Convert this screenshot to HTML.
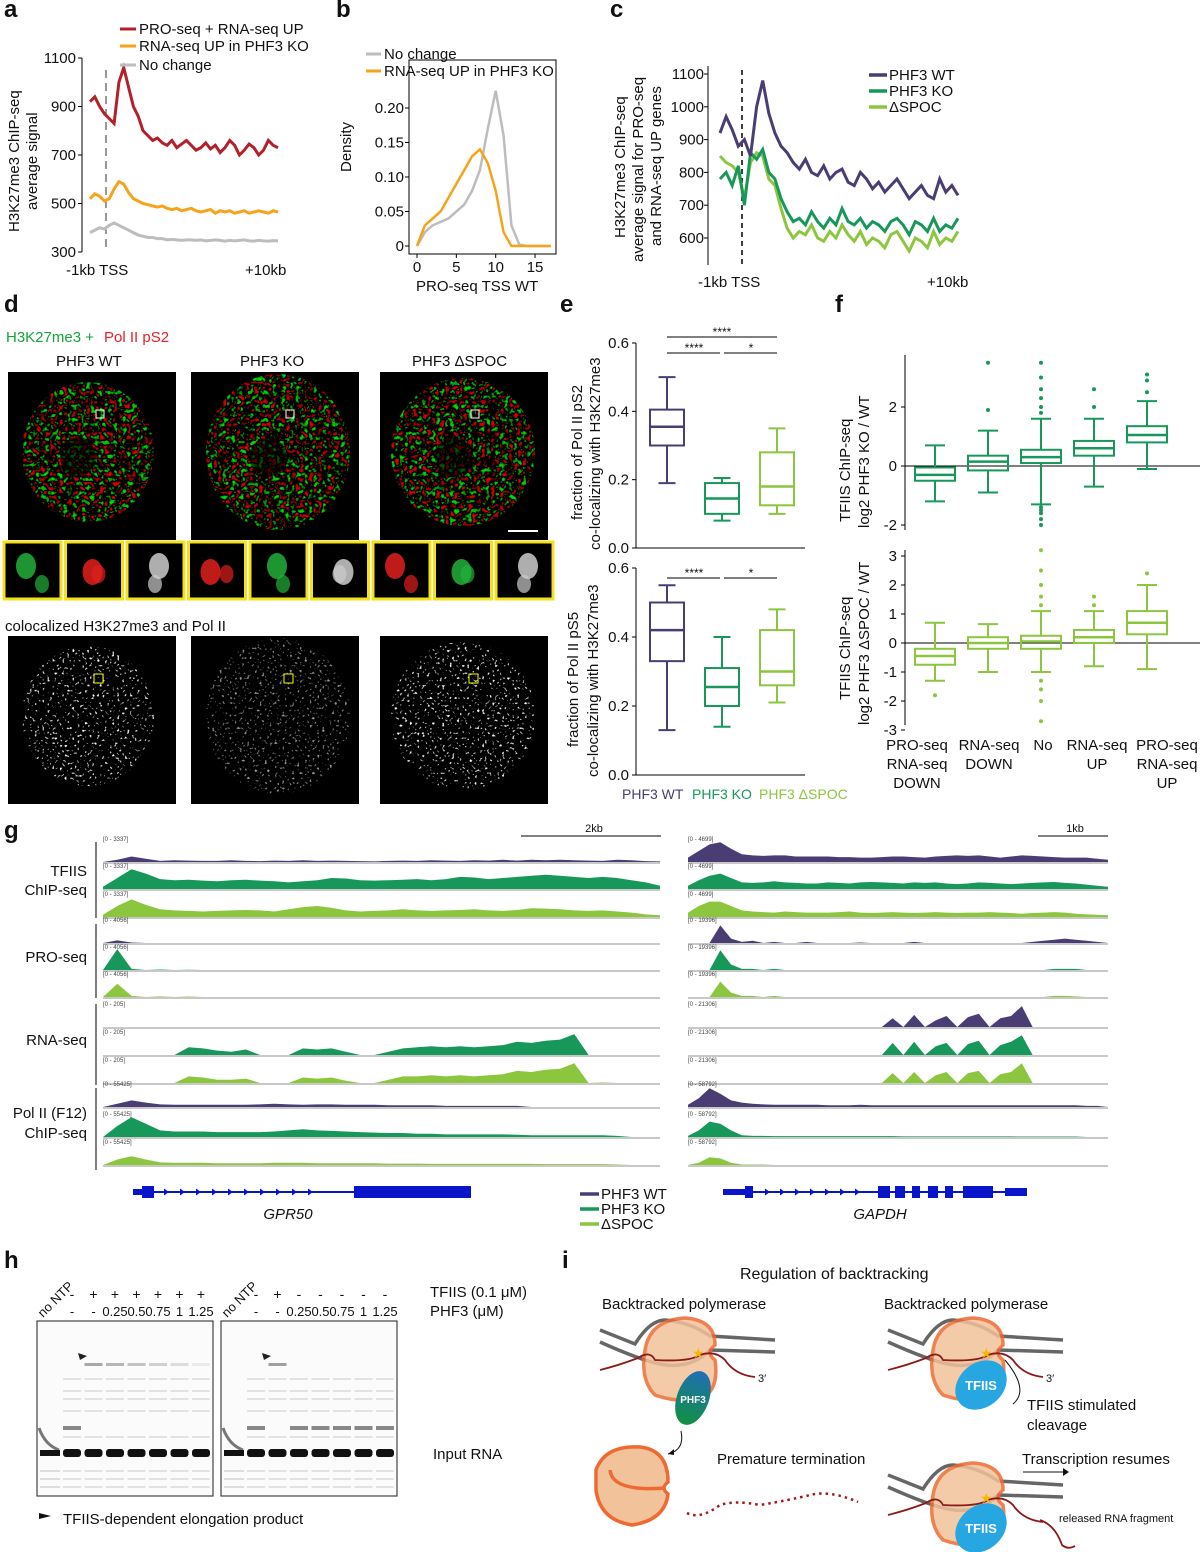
<!DOCTYPE html>
<html><head><meta charset="utf-8"><style>
html,body{margin:0;padding:0;background:#fff}
svg{display:block;font-family:"Liberation Sans",sans-serif}
</style></head><body>
<svg id="fig" width="1200" height="1552" viewBox="0 0 1200 1552" xmlns="http://www.w3.org/2000/svg">
<defs>
<filter id="rg" x="0" y="0" width="1" height="1"><feTurbulence type="fractalNoise" baseFrequency="0.22" numOctaves="2" seed="4"/><feColorMatrix values="4 -3 0 0 -0.9  -3 4 0 0 -0.9  0 0 0 0 0  0 0 0 0 1"/></filter>
<filter id="wh" x="0" y="0" width="1" height="1"><feTurbulence type="fractalNoise" baseFrequency="0.4" numOctaves="1" seed="7"/><feColorMatrix values="7 0 0 0 -4.4  7 0 0 0 -4.4  7 0 0 0 -4.4  0 0 0 0 1"/></filter>
<linearGradient id="phf" x1="0" y1="0" x2="0" y2="1"><stop offset="0" stop-color="#1f6fb6"/><stop offset="1" stop-color="#119040"/></linearGradient>
</defs>
<g id="root"></g>
</svg>
<script>
// ---------- DATA ----------
const aRed=[920,940,900,870,850,830,1000,1060,980,900,860,800,780,760,770,750,740,760,730,745,760,740,720,730,750,725,740,710,730,760,740,700,720,745,730,700,720,760,740,730];
const aOrange=[520,540,530,510,520,560,590,580,545,520,510,500,495,490,485,490,480,475,480,470,475,480,470,465,470,475,460,470,465,470,460,465,470,460,465,470,465,460,470,465];
const aGray=[380,390,400,395,410,420,410,400,390,380,370,365,360,360,355,355,350,352,350,348,350,350,348,350,346,348,350,348,345,348,346,348,350,346,345,348,346,345,347,346];
const aTicks=[300,500,700,900,1100];
const bX=[0,1,2,3,4,5,6,7,8,9,10,11,12,13,14,15,16,17];
const bGray=[0,0.02,0.03,0.035,0.04,0.05,0.06,0.08,0.11,0.17,0.225,0.16,0.03,0.002,0,0,0,0];
const bOrange=[0,0.03,0.04,0.05,0.07,0.09,0.11,0.13,0.14,0.12,0.08,0.02,0,0,0,0,0,0];
const bYTicks=[0,0.05,0.10,0.15,0.20];
const bXTicks=[0,5,10,15];
const cWT=[920,970,930,880,900,850,1000,1080,980,920,880,860,830,810,840,800,790,820,780,800,810,770,760,800,780,750,770,740,760,780,750,720,740,760,730,720,780,740,760,730];
const cKO=[780,800,760,820,700,860,840,870,800,780,720,680,650,660,640,680,650,630,660,640,690,650,640,660,630,650,640,620,650,660,640,610,650,640,620,660,620,640,630,660];
const cSP=[850,830,820,800,720,830,860,850,780,760,690,630,600,620,610,640,600,590,620,600,640,610,590,620,580,600,590,570,610,620,590,560,600,590,570,620,580,600,590,620];
const cTicks=[600,700,800,900,1000,1100];
const eTop=[[0.19,0.30,0.355,0.405,0.50],[0.08,0.10,0.145,0.19,0.205],[0.10,0.125,0.18,0.28,0.35]];
const eBot=[[0.13,0.33,0.42,0.50,0.55],[0.14,0.20,0.255,0.31,0.40],[0.21,0.26,0.30,0.42,0.48]];
const eTicks=[0,0.2,0.4,0.6];
const fTop=[[-1.2,-0.5,-0.3,-0.05,0.7],[-0.9,-0.15,0.15,0.35,1.2],[-1.3,0.1,0.3,0.55,1.6],[-0.7,0.35,0.6,0.85,1.6],[-0.1,0.8,1.05,1.35,2.2]];
const fBot=[[-1.3,-0.75,-0.45,-0.2,0.7],[-1.0,-0.2,0,0.2,0.65],[-1.0,-0.2,0.05,0.25,1.1],[-0.8,0,0.2,0.45,1.1],[-0.9,0.3,0.7,1.1,2.0]];
const fTopOut=[[],[1.9,3.5],[-2,-1.8,-1.6,-1.5,-1.4,1.8,2.0,2.3,2.6,3.0,3.5],[2.0,2.6],[2.5,2.9,3.1]];
const fBotOut=[[-1.8],[],[-2.7,-2,-1.6,-1.3,1.3,1.6,2.0,2.5,3.2],[1.3,1.6],[2.4]];
const fTopTicks=[-2,0,2];
const fBotTicks=[-3,-2,-1,0,1,2,3];
const gL=[
[0,0.1,0.25,0.15,0.05,0.08,0.06,0.05,0.05,0.08,0.05,0.04,0.06,0.05,0.08,0.05,0.06,0.05,0.04,0.03,0.05,0.06,0.05,0.08,0.06,0.05,0.08,0.06,0.1,0.06,0.1,0.08,0.1,0.08,0.06,0.05,0.1,0.08,0.04,0.03],
[0.1,0.5,0.9,0.7,0.45,0.4,0.42,0.38,0.35,0.4,0.42,0.38,0.35,0.3,0.35,0.4,0.5,0.48,0.4,0.38,0.4,0.42,0.45,0.4,0.45,0.55,0.52,0.45,0.5,0.55,0.6,0.65,0.6,0.55,0.5,0.55,0.5,0.4,0.3,0.15],
[0.1,0.5,0.8,0.55,0.35,0.3,0.28,0.25,0.28,0.3,0.32,0.3,0.25,0.35,0.45,0.5,0.42,0.3,0.25,0.28,0.3,0.35,0.3,0.28,0.3,0.32,0.35,0.3,0.28,0.32,0.4,0.38,0.35,0.3,0.28,0.3,0.25,0.2,0.12,0.08],
[0,0.12,0.02,0,0,0,0,0,0,0,0,0,0,0,0,0,0,0,0,0,0,0,0,0,0,0,0,0,0,0,0,0,0,0,0,0,0,0,0,0],
[0,0.95,0.05,0,0.02,0,0.01,0,0,0,0,0,0,0,0,0,0,0,0,0,0,0,0,0,0,0,0,0,0,0,0,0,0,0,0,0,0,0,0,0],
[0,0.6,0.05,0,0.03,0,0.02,0,0,0,0,0,0,0,0,0,0,0,0,0,0,0,0,0,0,0,0,0,0,0,0,0,0,0,0,0,0,0,0,0],
[0,0,0,0,0,0,0,0,0,0,0,0,0,0,0,0,0,0,0,0,0,0,0,0,0,0,0,0,0,0,0,0,0,0,0,0,0,0,0,0],
[0,0,0,0,0,0,0.35,0.3,0.2,0.15,0.25,0,0,0,0.3,0.25,0.3,0.15,0,0,0.15,0.3,0.35,0.4,0.35,0.4,0.35,0.4,0.45,0.6,0.55,0.65,0.7,0.95,0,0,0,0,0,0],
[0,0,0,0,0,0,0.3,0.25,0.15,0.15,0.2,0,0,0,0.25,0.2,0.25,0.1,0,0,0.15,0.3,0.3,0.35,0.3,0.35,0.3,0.35,0.4,0.55,0.5,0.6,0.65,0.9,0,0.02,0,0,0,0],
[0,0.15,0.3,0.2,0.12,0.1,0.1,0.1,0.1,0.1,0.1,0.12,0.15,0.12,0.1,0.12,0.12,0.1,0.1,0.1,0.08,0.08,0.08,0.08,0.05,0.05,0.05,0.05,0.05,0.05,0,0,0,0,0,0,0,0,0,0],
[0,0.5,0.9,0.6,0.3,0.25,0.25,0.25,0.22,0.22,0.22,0.22,0.25,0.3,0.35,0.3,0.28,0.25,0.22,0.2,0.18,0.18,0.15,0.15,0.12,0.12,0.12,0.12,0.12,0.1,0.08,0.08,0.08,0.08,0.08,0.08,0.05,0,0,0],
[0,0.25,0.4,0.25,0.12,0.1,0.1,0.1,0.08,0.08,0.08,0.08,0.1,0.1,0.1,0.08,0.08,0.08,0.08,0.08,0.06,0.06,0.06,0.05,0.05,0.05,0.05,0.05,0.05,0.05,0.05,0.04,0.04,0.04,0.04,0.04,0.02,0,0,0]];
const gR=[
[0.2,0.5,0.8,0.9,0.6,0.35,0.3,0.28,0.3,0.3,0.25,0.25,0.25,0.25,0.22,0.22,0.2,0.2,0.22,0.25,0.25,0.22,0.2,0.25,0.28,0.3,0.28,0.3,0.25,0.2,0.25,0.3,0.28,0.25,0.22,0.2,0.2,0.2,0.15,0.1],
[0.15,0.4,0.6,0.7,0.5,0.3,0.28,0.3,0.35,0.3,0.28,0.25,0.25,0.3,0.28,0.25,0.3,0.32,0.3,0.28,0.25,0.3,0.28,0.3,0.25,0.22,0.25,0.3,0.28,0.25,0.22,0.25,0.28,0.3,0.32,0.28,0.25,0.2,0.15,0.1],
[0.2,0.5,0.7,0.7,0.5,0.3,0.25,0.22,0.2,0.25,0.22,0.2,0.2,0.2,0.22,0.25,0.2,0.18,0.2,0.22,0.2,0.18,0.2,0.22,0.2,0.18,0.2,0.2,0.22,0.2,0.18,0.15,0.18,0.2,0.22,0.2,0.15,0.12,0.1,0.08],
[0,0,0,0.8,0.2,0.05,0.1,0,0.05,0,0,0.05,0,0,0,0,0.02,0,0,0,0,0.05,0,0,0,0,0,0,0,0,0,0,0.05,0.1,0.15,0.2,0.15,0.1,0.05,0],
[0,0,0,0.9,0.25,0.05,0.05,0,0.05,0,0,0,0,0,0,0,0,0,0,0,0,0,0,0,0,0,0,0,0,0,0,0,0,0,0.05,0.05,0.05,0,0,0],
[0,0,0,0.7,0.2,0.05,0.05,0,0.05,0,0,0,0,0,0,0,0,0,0,0,0,0,0,0,0,0,0,0,0,0,0,0,0,0,0.05,0.05,0.03,0,0,0],
[0,0,0,0,0,0,0,0,0,0,0,0,0,0,0,0,0,0,0,0.4,0,0.55,0,0.3,0.5,0,0.45,0.6,0,0.4,0.5,0.95,0,0,0,0,0,0,0,0],
[0,0,0,0,0,0,0,0,0,0,0,0,0,0,0,0,0,0,0,0.55,0,0.6,0,0.4,0.55,0,0.5,0.65,0,0.45,0.6,0.9,0,0,0,0,0,0,0,0],
[0,0,0,0,0,0,0,0,0,0,0,0,0,0,0,0,0,0,0,0.45,0,0.5,0,0.35,0.5,0,0.45,0.55,0,0.4,0.5,0.9,0,0,0,0,0,0,0,0],
[0.1,0.4,0.85,0.6,0.3,0.2,0.15,0.12,0.1,0.1,0.1,0.1,0.1,0.08,0.08,0.08,0.1,0.08,0.08,0.08,0.08,0.08,0.08,0.08,0.08,0.08,0.08,0.08,0.08,0.08,0.08,0.08,0.08,0.08,0.08,0.08,0.08,0.05,0.05,0],
[0.05,0.3,0.7,0.6,0.3,0.08,0.05,0.05,0.04,0.04,0.04,0.04,0.04,0.04,0.04,0.04,0.04,0.04,0.04,0.04,0.03,0.03,0.03,0.03,0.03,0.03,0.03,0.03,0.03,0.03,0.03,0.02,0.02,0.02,0.02,0.02,0.02,0,0,0],
[0,0.1,0.35,0.3,0.1,0.02,0.02,0.02,0,0,0,0,0,0,0,0,0,0,0,0,0,0,0,0,0,0,0,0,0,0,0,0,0,0,0,0,0,0,0,0]];
const gLRanges=["[0 - 3337]","[0 - 3337]","[0 - 3337]","[0 - 4056]","[0 - 4056]","[0 - 4056]","[0 - 205]","[0 - 205]","[0 - 205]","[0 - 55425]","[0 - 55425]","[0 - 55425]"];
const gRRanges=["[0 - 4699]","[0 - 4699]","[0 - 4699]","[0 - 19396]","[0 - 19396]","[0 - 19396]","[0 - 21306]","[0 - 21306]","[0 - 21306]","[0 - 58792]","[0 - 58792]","[0 - 58792]"];
const hLeftLabels1=["-","+","+","+","+","+","+"];
const hLeftLabels2=["-","-","0.25","0.5","0.75","1","1.25"];
const hRightLabels1=["-","+","-","-","-","-","-"];
const hRightLabels2=["-","-","0.25","0.5","0.75","1","1.25"];

// ---------- HELPERS ----------
const NS="http://www.w3.org/2000/svg";
const root=document.getElementById('root');
function el(tag,attrs,parent,txt){const e=document.createElementNS(NS,tag);for(const k in attrs)e.setAttribute(k,attrs[k]);if(txt!==undefined)e.textContent=txt;(parent||root).appendChild(e);return e;}
function T(x,y,s,size,opts){opts=opts||{};const e=el('text',Object.assign({x:x,y:y,'font-size':size||14,fill:opts.fill||'#111'},opts.a||{}),opts.p,s);return e;}
const PUR="#4a3d73",GRN="#17985a",LGR="#8cc63f",RED="#b3202a",ORG="#f7a21b",GRY="#bdbdbd";

[["a",4,17],["b",336,17],["c",610,17],["d",4,312],["e",560,312],["f",835,312],["g",4,838],["h",4,1268],["i",562,1268]].forEach(p=>{
 const t=T(p[1],p[2],p[0],24,{a:{'font-weight':'bold'}});
 
 
});

// ---------- PANEL A ----------
(function(){
 const g=el('g',{});
 const x0=90,x1=278,y=v=>252-(v-300)*194/800,x=i=>x0+i*(x1-x0)/(aRed.length-1);
 el('line',{x1:82,y1:58,x2:82,y2:252,stroke:'#000'},g);
 aTicks.forEach(v=>{el('line',{x1:78,y1:y(v),x2:82,y2:y(v),stroke:'#000'},g);T(76,y(v)+5,String(v),15,{p:g,a:{'text-anchor':'end'}});});
 el('line',{x1:106,y1:70,x2:106,y2:250,stroke:'#333','stroke-dasharray':'8,5'},g);
 [[aGray,GRY,'series-no-change'],[aOrange,ORG,'series-rnaseq-up'],[aRed,RED,'series-proseq-rnaseq-up']].forEach(s=>{
  const p=el('polyline',{points:s[0].map((v,i)=>x(i)+','+y(v)).join(' '),fill:'none',stroke:s[1],'stroke-width':3},g);
  
 });
 T(66,275,'-1kb TSS',15,{p:g});T(245,275,'+10kb',15,{p:g});
 T(0,0,'H3K27me3 ChIP-seq',15,{p:g,a:{transform:'translate(19,232) rotate(-90)'}});
 T(0,0,'average signal',15,{p:g,a:{transform:'translate(37,210) rotate(-90)'}});
 [[RED,'PRO-seq + RNA-seq UP',34],[ORG,'RNA-seq UP in PHF3 KO',51],[GRY,'No change',70]].forEach(l=>{
  const lg=el('g',{},g);
  el('line',{x1:120,y1:l[2]-5,x2:136,y2:l[2]-5,stroke:l[0],'stroke-width':3},lg);T(139,l[2],l[1],15,{p:lg});
 });
})();

// ---------- PANEL B ----------
(function(){
 const g=el('g',{});
 const x=v=>417+v*7.87,y=v=>246-v*690;
 el('rect',{x:409,y:60,width:147,height:194,fill:'none',stroke:'#000'},g);
 bYTicks.forEach(v=>{el('line',{x1:405,y1:y(v),x2:409,y2:y(v),stroke:'#000'},g);T(404,y(v)+5,v===0?'0':v.toFixed(2),15,{p:g,a:{'text-anchor':'end'}});});
 bXTicks.forEach(v=>{el('line',{x1:x(v),y1:254,x2:x(v),y2:258,stroke:'#000'},g);T(x(v),272,String(v),15,{p:g,a:{'text-anchor':'middle'}});});
 [[bGray,GRY,'density-no-change'],[bOrange,ORG,'density-rnaseq-up']].forEach(s=>{
  const p=el('polyline',{points:s[0].map((v,i)=>x(bX[i])+','+y(v)).join(' '),fill:'none',stroke:s[1],'stroke-width':2.5},g);
  
 });
 T(416,291,'PRO-seq TSS WT',15,{p:g});
 T(0,0,'Density',15,{p:g,a:{transform:'translate(351,172) rotate(-90)'}});
 [[GRY,'No change',59],[ORG,'RNA-seq UP in PHF3 KO',76]].forEach(l=>{
  const lg=el('g',{},g);
  el('line',{x1:366,y1:l[2]-5,x2:381,y2:l[2]-5,stroke:l[0],'stroke-width':3},lg);T(384,l[2],l[1],15,{p:lg});
 });
})();

// ---------- PANEL C ----------
(function(){
 const g=el('g',{});
 const x0=720,x1=958,y=v=>238-(v-600)*0.328,x=i=>x0+i*(x1-x0)/(cWT.length-1);
 el('line',{x1:708,y1:66,x2:708,y2:265,stroke:'#000'},g);
 cTicks.forEach(v=>{el('line',{x1:704,y1:y(v),x2:708,y2:y(v),stroke:'#000'},g);T(704,y(v)+5,String(v),15,{p:g,a:{'text-anchor':'end'}});});
 el('line',{x1:742,y1:70,x2:742,y2:265,stroke:'#000','stroke-dasharray':'5,4','stroke-width':1.5},g);
 [[cSP,LGR,'series-dspoc'],[cKO,GRN,'series-phf3-ko'],[cWT,PUR,'series-phf3-wt']].forEach(s=>{
  const p=el('polyline',{points:s[0].map((v,i)=>x(i)+','+y(v)).join(' '),fill:'none',stroke:s[1],'stroke-width':3},g);
  
 });
 T(698,287,'-1kb TSS',15,{p:g});T(927,287,'+10kb',15,{p:g});
 T(0,0,'H3K27me3 ChIP-seq',15,{p:g,a:{transform:'translate(625,238) rotate(-90)'}});
 T(0,0,'average signal for PRO-seq',15,{p:g,a:{transform:'translate(643,262) rotate(-90)'}});
 T(0,0,'and RNA-seq UP genes',15,{p:g,a:{transform:'translate(661,246) rotate(-90)'}});
 [[PUR,'PHF3 WT',80],[GRN,'PHF3 KO',96],[LGR,'ΔSPOC',112]].forEach(l=>{
  const lg=el('g',{},g);
  el('line',{x1:869,y1:l[2]-5,x2:887,y2:l[2]-5,stroke:l[0],'stroke-width':3.5},lg);T(889,l[2],l[1],15,{p:lg});
 });
})();

// ---------- PANEL D ----------
(function(){
 const g=el('g',{});
 T(6,342,'H3K27me3 +',15,{p:g,fill:'#13a538'});T(104,342,'Pol II pS2',15,{p:g,fill:'#e8202a'});
 const cols=[[8,'PHF3 WT',56],[191,'PHF3 KO',240],[380,'PHF3 ΔSPOC',412]];
 const ell=[[88,452,66,70],[278,452,72,78],[463,452,72,74]];
 cols.forEach((c,i)=>{
  T(c[2],366,c[1],15,{p:g});
  el('rect',{x:c[0],y:372,width:168,height:168,fill:'#000'},g);
  el('clipPath',{id:'cp'+i},g);
  el('ellipse',{cx:ell[i][0],cy:ell[i][1],rx:ell[i][2],ry:ell[i][3]},document.getElementById('cp'+i));
  const r=el('rect',{x:c[0],y:372,width:168,height:168,filter:'url(#rg)','clip-path':'url(#cp'+i+')',opacity:0.85},g);
  
  el('ellipse',{cx:ell[i][0]-10,cy:ell[i][1]+5,rx:18,ry:20,fill:'#000',opacity:0.6},g);
  el('rect',{x:ell[i][0]+8,y:ell[i][1]-42,width:8,height:8,fill:'none',stroke:'#fff'},g);
  el('rect',{x:c[0],y:636,width:168,height:168,fill:'#000'},g);
  el('clipPath',{id:'cq'+i},g);
  el('ellipse',{cx:ell[i][0],cy:ell[i][1]+264,rx:ell[i][2],ry:ell[i][3]},document.getElementById('cq'+i));
  el('rect',{x:c[0],y:636,width:168,height:168,filter:'url(#wh)','clip-path':'url(#cq'+i+')',opacity:i==1?0.6:1},g);
  el('rect',{x:ell[i][0]+6,y:ell[i][1]+222,width:9,height:9,fill:'none',stroke:'#ff0'},g);
 });
 el('line',{x1:508,y1:531,x2:538,y2:531,stroke:'#fff','stroke-width':2},g);
 const zc=['#22b03a','#e0201c','#ccc','#e0201c','#22b03a','#ccc','#e0201c','#22b03a','#ccc'];
 for(let k=0;k<9;k++){
  const zx=4+k*61.5;
  el('rect',{x:zx,y:542,width:57,height:57,fill:'#000',stroke:'#f3e21a','stroke-width':3},g);
  el('ellipse',{cx:zx+22+(k%3)*5,cy:566+(k%2)*6,rx:10,ry:13,fill:zc[k],opacity:0.85},g);
  el('ellipse',{cx:zx+38-(k%3)*5,cy:584-(k%2)*10,rx:7,ry:9,fill:zc[k],opacity:0.7},g);
 }
 T(5,631,'colocalized H3K27me3 and Pol II',15,{p:g});
})();

// ---------- PANEL E ----------
function boxplot(g,stats,cx,w,y,colors,outs){
 stats.forEach((s,i)=>{
  const bg=el('g',{},g);
  const c=colors[i],x=cx[i];
  el('line',{x1:x,y1:y(s[0]),x2:x,y2:y(s[1]),stroke:c,'stroke-width':2},bg);
  el('line',{x1:x,y1:y(s[3]),x2:x,y2:y(s[4]),stroke:c,'stroke-width':2},bg);
  el('line',{x1:x-w/4,y1:y(s[0]),x2:x+w/4,y2:y(s[0]),stroke:c,'stroke-width':2},bg);
  el('line',{x1:x-w/4,y1:y(s[4]),x2:x+w/4,y2:y(s[4]),stroke:c,'stroke-width':2},bg);
  el('rect',{x:x-w/2,y:y(s[3]),width:w,height:y(s[1])-y(s[3]),fill:'none',stroke:c,'stroke-width':2},bg);
  el('line',{x1:x-w/2,y1:y(s[2]),x2:x+w/2,y2:y(s[2]),stroke:c,'stroke-width':2.5},bg);
  if(outs)outs[i].forEach(o=>el('circle',{cx:x,cy:y(o),r:2,fill:c},bg));
 });
}
(function(){
 const g=el('g',{});
 const cx=[667,722,777],cols=[PUR,GRN,LGR];
 [[eTop,548,'fraction of Pol II pS2',343],[eBot,775,'fraction of Pol II pS5',568]].forEach((P,k)=>{
  const y=v=>P[1]-v*(P[1]-P[3])/0.6;
  el('line',{x1:636,y1:P[3],x2:636,y2:P[1],stroke:'#000'},g);
  el('line',{x1:636,y1:P[1],x2:805,y2:P[1],stroke:'#000'},g);
  eTicks.forEach(v=>{el('line',{x1:632,y1:y(v),x2:636,y2:y(v),stroke:'#000'},g);T(629,y(v)+5,v.toFixed(1),15,{p:g,a:{'text-anchor':'end'}});});
  boxplot(g,P[0],cx,34,y,cols);
  T(0,0,P[2],15,{p:g,a:{transform:'translate('+(582-k*4)+','+(P[1]-28)+') rotate(-90)'}});
  T(0,0,'co-localizing with  H3K27me3',15,{p:g,a:{transform:'translate('+(600-k*2)+','+(P[1]+2)+') rotate(-90)'}});
 });
 el('line',{x1:667,y1:337,x2:777,y2:337,stroke:'#000'},g);T(722,336,'****',12,{p:g,a:{'text-anchor':'middle'}});
 el('line',{x1:667,y1:353,x2:720,y2:353,stroke:'#000'},g);T(694,352,'****',12,{p:g,a:{'text-anchor':'middle'}});
 el('line',{x1:724,y1:353,x2:777,y2:353,stroke:'#000'},g);T(751,352,'*',12,{p:g,a:{'text-anchor':'middle'}});
 el('line',{x1:667,y1:578,x2:720,y2:578,stroke:'#000'},g);T(694,577,'****',12,{p:g,a:{'text-anchor':'middle'}});
 el('line',{x1:724,y1:578,x2:777,y2:578,stroke:'#000'},g);T(751,577,'*',12,{p:g,a:{'text-anchor':'middle'}});
 T(622,799,'PHF3 WT',14,{p:g,fill:PUR});T(692,799,'PHF3 KO',14,{p:g,fill:GRN});T(759,799,'PHF3 ΔSPOC',14,{p:g,fill:LGR});
})();

// ---------- PANEL F ----------
(function(){
 const g=el('g',{});
 const cx=[935,988,1041,1094,1147];
 const top=v=>466-v*29.5, bot=v=>643-v*29;
 el('line',{x1:905,y1:355,x2:905,y2:530,stroke:'#000'},g);
 el('line',{x1:905,y1:466,x2:1200,y2:466,stroke:'#000'},g);
 fTopTicks.forEach(v=>{el('line',{x1:901,y1:top(v),x2:905,y2:top(v),stroke:'#000'},g);T(897,top(v)+5,String(v),15,{p:g,a:{'text-anchor':'end'}});});
 boxplot(g,fTop,cx,40,top,[GRN,GRN,GRN,GRN,GRN],fTopOut);
 el('line',{x1:905,y1:550,x2:905,y2:725,stroke:'#000'},g);
 el('line',{x1:905,y1:643,x2:1200,y2:643,stroke:'#000'},g);
 fBotTicks.forEach(v=>{el('line',{x1:901,y1:bot(v),x2:905,y2:bot(v),stroke:'#000'},g);T(897,bot(v)+5,String(v),15,{p:g,a:{'text-anchor':'end'}});});
 boxplot(g,fBot,cx,40,bot,[LGR,LGR,LGR,LGR,LGR],fBotOut);
 T(0,0,'TFIIS ChIP-seq',15,{p:g,a:{transform:'translate(850,522) rotate(-90)'}});
 T(0,0,'log2 PHF3 KO / WT',15,{p:g,a:{transform:'translate(869,528) rotate(-90)'}});
 T(0,0,'TFIIS ChIP-seq',15,{p:g,a:{transform:'translate(850,700) rotate(-90)'}});
 T(0,0,'log2 PHF3 ΔSPOC / WT',15,{p:g,a:{transform:'translate(869,725) rotate(-90)'}});
 [['PRO-seq',917,750],['RNA-seq',917,769],['DOWN',917,788],['RNA-seq',989,750],['DOWN',989,769],['No',1043,750],['RNA-seq',1097,750],['UP',1097,769],['PRO-seq',1167,750],['RNA-seq',1167,769],['UP',1167,788]].forEach(l=>T(l[1],l[2],l[0],15,{p:g,a:{'text-anchor':'middle'}}));
})();

// ---------- PANEL G ----------
(function(){
 const g=el('g',{});
 const base=[862,889,917,943,970,997,1027,1055,1083,1107,1137,1165];
 const tc=[PUR,GRN,LGR];
 function tracks(data,ranges,x0,x1,nm){
  const bw=(x1-x0)/(data[0].length-1);
  data.forEach((tr,k)=>{
   const yb=base[k],h=22;
   el('line',{x1:x0,y1:yb+1,x2:x1,y2:yb+1,stroke:'#c8c8c8','stroke-width':2},g);
   let d='M'+x0+','+yb;
   tr.forEach((v,i)=>{d+=' L'+(x0+i*bw)+','+(yb-v*h);});
   d+=' L'+x1+','+yb+' Z';
   const p=el('path',{d:d,fill:tc[k%3]},g);
   
   T(x0,yb-21,ranges[k],6,{p:g,fill:'#444'});
  });
 }
 tracks(gL,gLRanges,103,660,'gpr50');
 tracks(gR,gRRanges,688,1108,'gapdh');
 [[842,918],[924,998],[1004,1085],[1088,1170]].forEach(r=>el('line',{x1:96,y1:r[0],x2:96,y2:r[1],stroke:'#000'},g));
 [['TFIIS',87,876],['ChIP-seq',87,895],['PRO-seq',87,962],['RNA-seq',87,1045],['Pol II (F12)',87,1118],['ChIP-seq',87,1138]].forEach(l=>T(l[1],l[2],l[0],15,{p:g,a:{'text-anchor':'end'}}));
 el('line',{x1:521,y1:836,x2:661,y2:836,stroke:'#000'},g);T(594,832,'2kb',11,{p:g,a:{'text-anchor':'middle'}});
 el('line',{x1:1038,y1:836,x2:1108,y2:836,stroke:'#000'},g);T(1075,832,'1kb',11,{p:g,a:{'text-anchor':'middle'}});
 const gm=el('g',{},g);
 el('line',{x1:133,y1:1192,x2:470,y2:1192,stroke:'#0a14c8','stroke-width':2},gm);
 el('rect',{x:133,y:1189,width:20,height:6,fill:'#0a14c8'},gm);el('rect',{x:142,y:1186,width:12,height:12,fill:'#0a14c8'},gm);
 el('rect',{x:354,y:1186,width:117,height:12,fill:'#0a14c8'},gm);
 for(let i=0;i<10;i++)el('path',{d:'M'+(164+i*16)+',1189 l4,3 l-4,3',fill:'#0a14c8',stroke:'#0a14c8'},gm);
 T(288,1219,'GPR50',15,{p:g,a:{'font-style':'italic','text-anchor':'middle'}});
 const gm2=el('g',{},g);
 el('line',{x1:723,y1:1192,x2:1027,y2:1192,stroke:'#0a14c8','stroke-width':2},gm2);
 [[723,28,6],[745,8,12],[878,12,12],[895,10,12],[912,8,12],[928,10,12],[945,8,12],[963,30,12],[1005,22,8]].forEach(b=>el('rect',{x:b[0],y:1192-b[2]/2,width:b[1],height:b[2],fill:'#0a14c8'},gm2));
 for(let i=0;i<7;i++)el('path',{d:'M'+(765+i*15)+',1189 l4,3 l-4,3',fill:'#0a14c8',stroke:'#0a14c8'},gm2);
 T(880,1219,'GAPDH',15,{p:g,a:{'font-style':'italic','text-anchor':'middle'}});
 [[PUR,'PHF3 WT',1199],[GRN,'PHF3 KO',1214],[LGR,'ΔSPOC',1229]].forEach(l=>{
  const lg=el('g',{},g);
  el('line',{x1:580,y1:l[2]-5,x2:599,y2:l[2]-5,stroke:l[0],'stroke-width':3.5},lg);T(601,l[2],l[1],15,{p:lg});
 });
})();

// ---------- PANEL H ----------
(function(){
 const g=el('g',{});
 function gel(x0,l1,l2,right){
  const gg=el('g',{},g);
  el('rect',{x:x0,y:1321,width:176,height:175,fill:'#fbfbfb',stroke:'#444','stroke-width':1.2},gg);
  const lx=i=>x0+13.5+i*21.5;
  el('path',{d:'M'+(x0+2)+',1428 Q'+(x0+8)+',1445 '+(x0+22)+',1450',fill:'none',stroke:'#777','stroke-width':3},gg);
  el('rect',{x:x0+3,y:1450,width:20,height:6,fill:'#111'},gg);
  [1470,1478,1486].forEach(yy=>el('rect',{x:x0+3,y:yy,width:20,height:2,fill:'#ddd'},gg));
  for(let i=0;i<7;i++){
   const cx=lx(i+1);
   el('rect',{x:cx-9,y:1449,width:18,height:8,rx:3,fill:'#111'},gg);
   [1378,1390,1398,1410,1436,1470,1478,1486].forEach(yy=>el('rect',{x:cx-9,y:yy,width:18,height:2,fill:'#e2e2e2'},gg));
   let ext=0;
   if(!right&&i>0)ext=Math.max(0.08,0.5-0.08*(i-1));
   if(right&&i===1)ext=0.55;
   if(ext>0)el('rect',{x:cx-9,y:1363,width:18,height:3,fill:'#555',opacity:ext},gg);
   const mid=(i===0)||(right&&i>1);
   if(mid)el('rect',{x:cx-9,y:1426,width:18,height:4,fill:'#888'},gg);
  }
  el('path',{d:'M'+(lx(1)+6)+',1353 l9,3 l-7,4 z',fill:'#222'},gg);
  T(0,0,'no NTP',13,{p:gg,a:{transform:'translate('+(x0+6)+',1318) rotate(-45)'}});
  l1.forEach((s,i)=>T(lx(i+1),1299,s,14,{p:gg,a:{'text-anchor':'middle'}}));
  l2.forEach((s,i)=>T(lx(i+1),1316,s,13,{p:gg,a:{'text-anchor':'middle'}}));
 }
 gel(37,hLeftLabels1,hLeftLabels2,false);
 gel(221,hRightLabels1,hRightLabels2,true);
 T(430,1297,'TFIIS (0.1 μM)',15,{p:g});T(430,1316,'PHF3 (μM)',15,{p:g});
 T(433,1459,'Input RNA',15,{p:g});
 el('path',{d:'M39,1513 l12,3 l-12,3 z',fill:'#111'},g);
 T(63,1524,'TFIIS-dependent elongation product',15,{p:g});
})();

// ---------- PANEL I ----------
(function(){
 const g=el('g',{});
 T(740,1279,'Regulation of backtracking',16,{p:g});
 T(602,1309,'Backtracked polymerase',15,{p:g});T(884,1309,'Backtracked polymerase',15,{p:g});
 function pol(ox,oy,prot,label,show3){
  const pg=el('g',{transform:'translate('+ox+','+oy+')'},g);
  
  el('path',{d:'M0,-20 Q20,-12 35,-6 Q50,-30 65,-30 Q90,-28 110,-14 L175,-10',fill:'none',stroke:'#666','stroke-width':3.5},pg);
  el('path',{d:'M0,-8 Q40,10 60,14 Q90,20 110,0 L175,2',fill:'none',stroke:'#666','stroke-width':3.5},pg);
  el('path',{d:'M45,0 Q50,-30 85,-32 Q115,-30 115,-5 Q105,3 115,10 Q120,45 95,50 Q75,52 55,45 Q40,30 45,0 Z',fill:'#f2c29b',opacity:0.85,stroke:'#ef6a33','stroke-width':3.5},pg);
  el('path',{d:'M0,20 Q20,15 38,8 Q50,0 55,10 Q90,12 100,5 Q115,0 125,10 Q135,25 155,27',fill:'none',stroke:'#8b1a1a','stroke-width':1.8},pg);
  el('text',{x:92,y:8,'font-size':14,fill:'#f5b800'},pg,'★');
  if(show3)T(158,32,'3′',11,{p:pg});
  if(prot){el('ellipse',{cx:prot[0],cy:prot[1],rx:prot[2],ry:prot[3],fill:prot[4],transform:'rotate('+prot[5]+' '+prot[0]+' '+prot[1]+')'},pg);
   T(prot[0],prot[1]+5,label,label==='PHF3'?10:13,{p:pg,fill:'#fff',a:{'text-anchor':'middle','font-weight':'bold'}});}
 }
 pol(600,1350,[93,48,16,28,'url(#phf)',20],'PHF3',true);
 pol(888,1350,[93,35,22,28,'#27a7e1',50],'TFIIS',true);
 pol(888,1495,[93,33,22,28,'#27a7e1',50],'TFIIS',false);
 el('path',{d:'M681,1431 Q685,1450 668,1454',fill:'none',stroke:'#111'},g);el('path',{d:'M668,1454 l6,-5 l0,6 z',fill:'#111'},g);
 el('path',{d:'M596,1470 Q605,1445 640,1447 Q668,1450 668,1482 Q660,1488 668,1494 Q665,1520 632,1525 Q600,1520 596,1490 Z',fill:'#f2c29b',stroke:'#ef6a33','stroke-width':3.5},g);
 el('path',{d:'M610,1470 Q612,1492 665,1488',fill:'none',stroke:'#ef6a33','stroke-width':3.5},g);
 el('path',{d:'M687,1513 Q700,1520 720,1505 Q735,1500 760,1505 Q790,1500 810,1495 Q830,1490 858,1502',fill:'none',stroke:'#a0191e','stroke-width':2.5,'stroke-dasharray':'2.5,4'},g);
 T(717,1464,'Premature termination',15,{p:g});
 T(1027,1410,'TFIIS stimulated',15,{p:g});T(1027,1430,'cleavage',15,{p:g});
 el('path',{d:'M1013,1404 Q1030,1390 1005,1360',fill:'none',stroke:'#111'},g);
 T(1022,1464,'Transcription resumes',15,{p:g});
 el('line',{x1:1023,y1:1472,x2:1063,y2:1472,stroke:'#111'},g);el('path',{d:'M1063,1468 l6,4 l-6,4 z',fill:'#111'},g);
 el('path',{d:'M1040,1520 Q1055,1525 1062,1545 Q1068,1550 1075,1546',fill:'none',stroke:'#8b1a1a','stroke-width':1.8},g);
 T(1059,1522,'released RNA fragment',11,{p:g});
})();
</script>
</body></html>
